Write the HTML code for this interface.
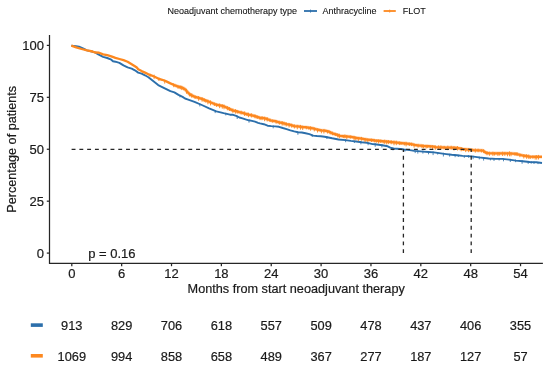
<!DOCTYPE html>
<html><head><meta charset="utf-8"><title>Kaplan-Meier</title>
<style>
html,body{margin:0;padding:0;background:#fff;}
body{width:550px;height:368px;overflow:hidden;}
svg{display:block;font-family:"Liberation Sans",Arial,sans-serif;}
</style></head>
<body>
<svg width="550" height="368" viewBox="0 0 550 368">
<text x="167.4" y="14.4" font-size="9.0" fill="#111" stroke="#111" stroke-width="0.08">Neoadjuvant chemotherapy type</text>
<line x1="304" y1="11" x2="317" y2="11" stroke="#2c6fab" stroke-width="1.8"/>
<line x1="310.5" y1="9.6" x2="310.5" y2="12.6" stroke="#2c6fab" stroke-width="0.8"/>
<text x="322.5" y="14.4" font-size="9.0" fill="#111" stroke="#111" stroke-width="0.08">Anthracycline</text>
<line x1="383.6" y1="11" x2="395.8" y2="11" stroke="#fd881f" stroke-width="1.8"/>
<line x1="389.7" y1="9.6" x2="389.7" y2="12.6" stroke="#fd881f" stroke-width="0.8"/>
<text x="402.7" y="14.4" font-size="9.0" fill="#111" stroke="#111" stroke-width="0.08">FLOT</text>
<line x1="49.5" y1="35" x2="49.5" y2="263.8" stroke="#262626" stroke-width="1.25"/>
<line x1="49" y1="263.3" x2="542.9" y2="263.3" stroke="#262626" stroke-width="1.25"/>
<line x1="46.8" y1="253.10" x2="49.5" y2="253.10" stroke="#262626" stroke-width="1.25"/>
<text x="44" y="258.10" font-size="13" text-anchor="end" fill="#1a1a1a" stroke="#1a1a1a" stroke-width="0.2">0</text>
<line x1="46.8" y1="201.18" x2="49.5" y2="201.18" stroke="#262626" stroke-width="1.25"/>
<text x="44" y="206.18" font-size="13" text-anchor="end" fill="#1a1a1a" stroke="#1a1a1a" stroke-width="0.2">25</text>
<line x1="46.8" y1="149.25" x2="49.5" y2="149.25" stroke="#262626" stroke-width="1.25"/>
<text x="44" y="154.25" font-size="13" text-anchor="end" fill="#1a1a1a" stroke="#1a1a1a" stroke-width="0.2">50</text>
<line x1="46.8" y1="97.32" x2="49.5" y2="97.32" stroke="#262626" stroke-width="1.25"/>
<text x="44" y="102.32" font-size="13" text-anchor="end" fill="#1a1a1a" stroke="#1a1a1a" stroke-width="0.2">75</text>
<line x1="46.8" y1="45.40" x2="49.5" y2="45.40" stroke="#262626" stroke-width="1.25"/>
<text x="44" y="50.40" font-size="13" text-anchor="end" fill="#1a1a1a" stroke="#1a1a1a" stroke-width="0.2">100</text>
<line x1="71.80" y1="263.3" x2="71.80" y2="266.2" stroke="#262626" stroke-width="1.25"/>
<text x="71.80" y="278.2" font-size="13" text-anchor="middle" fill="#1a1a1a" stroke="#1a1a1a" stroke-width="0.2">0</text>
<line x1="121.66" y1="263.3" x2="121.66" y2="266.2" stroke="#262626" stroke-width="1.25"/>
<text x="121.66" y="278.2" font-size="13" text-anchor="middle" fill="#1a1a1a" stroke="#1a1a1a" stroke-width="0.2">6</text>
<line x1="171.52" y1="263.3" x2="171.52" y2="266.2" stroke="#262626" stroke-width="1.25"/>
<text x="171.52" y="278.2" font-size="13" text-anchor="middle" fill="#1a1a1a" stroke="#1a1a1a" stroke-width="0.2">12</text>
<line x1="221.38" y1="263.3" x2="221.38" y2="266.2" stroke="#262626" stroke-width="1.25"/>
<text x="221.38" y="278.2" font-size="13" text-anchor="middle" fill="#1a1a1a" stroke="#1a1a1a" stroke-width="0.2">18</text>
<line x1="271.24" y1="263.3" x2="271.24" y2="266.2" stroke="#262626" stroke-width="1.25"/>
<text x="271.24" y="278.2" font-size="13" text-anchor="middle" fill="#1a1a1a" stroke="#1a1a1a" stroke-width="0.2">24</text>
<line x1="321.10" y1="263.3" x2="321.10" y2="266.2" stroke="#262626" stroke-width="1.25"/>
<text x="321.10" y="278.2" font-size="13" text-anchor="middle" fill="#1a1a1a" stroke="#1a1a1a" stroke-width="0.2">30</text>
<line x1="370.96" y1="263.3" x2="370.96" y2="266.2" stroke="#262626" stroke-width="1.25"/>
<text x="370.96" y="278.2" font-size="13" text-anchor="middle" fill="#1a1a1a" stroke="#1a1a1a" stroke-width="0.2">36</text>
<line x1="420.82" y1="263.3" x2="420.82" y2="266.2" stroke="#262626" stroke-width="1.25"/>
<text x="420.82" y="278.2" font-size="13" text-anchor="middle" fill="#1a1a1a" stroke="#1a1a1a" stroke-width="0.2">42</text>
<line x1="470.68" y1="263.3" x2="470.68" y2="266.2" stroke="#262626" stroke-width="1.25"/>
<text x="470.68" y="278.2" font-size="13" text-anchor="middle" fill="#1a1a1a" stroke="#1a1a1a" stroke-width="0.2">48</text>
<line x1="520.54" y1="263.3" x2="520.54" y2="266.2" stroke="#262626" stroke-width="1.25"/>
<text x="520.54" y="278.2" font-size="13" text-anchor="middle" fill="#1a1a1a" stroke="#1a1a1a" stroke-width="0.2">54</text>
<text x="296.2" y="293.1" font-size="12.7" text-anchor="middle" fill="#1a1a1a" stroke="#1a1a1a" stroke-width="0.2">Months from start neoadjuvant therapy</text>
<text transform="translate(16.3,149.35) rotate(-90)" x="0" y="0" font-size="12.7" text-anchor="middle" fill="#1a1a1a" stroke="#1a1a1a" stroke-width="0.2">Percentage of patients</text>
<polyline points="71.4,45.6 76.0,46.2 79.0,46.7 83.0,48.4 87.0,50.3 92.0,51.5 95.5,52.6 98.3,54.4 103.1,56.8 107.2,58.0 111.3,59.7 113.0,61.3 115.4,61.7 119.4,62.9 123.5,65.4 127.6,67.4 131.7,68.6 134.9,70.3 138.2,72.6 141.6,73.6 145.0,75.3 148.4,77.3 150.0,78.6 154.1,81.8 158.2,85.1 162.2,87.1 166.3,89.2 170.4,91.2 174.4,92.4 178.5,94.9 182.6,96.9 185.0,98.5 187.5,99.3 194.5,101.8 201.8,105.0 209.1,108.4 216.4,111.3 223.6,113.2 230.0,114.7 233.1,114.8 236.2,115.9 239.4,117.5 242.5,118.4 245.6,119.4 248.8,120.3 251.9,120.9 255.0,121.6 258.1,122.8 260.0,123.4 263.8,124.2 267.6,125.7 271.4,126.1 275.2,126.4 279.0,126.8 282.8,128.0 286.6,129.1 290.4,130.3 294.2,131.4 298.0,132.2 301.8,132.5 305.6,133.3 309.4,134.1 313.2,135.6 317.0,136.0 320.8,136.3 324.6,136.7 328.4,137.5 332.2,138.3 336.0,139.0 338.5,139.5 345.4,140.1 350.9,140.9 356.3,141.5 361.7,142.3 367.2,142.8 372.6,144.1 375.0,144.3 382.3,145.2 387.7,146.3 390.3,147.7 393.2,148.5 396.8,148.7 400.5,149.0 404.1,149.5 407.7,149.9 411.4,150.4 414.3,150.9 417.6,151.1 423.0,151.6 428.5,152.0 433.9,152.4 440.9,153.4 446.3,154.1 451.7,154.8 457.2,155.2 462.6,155.9 468.0,156.1 473.5,156.6 478.9,157.4 488.6,158.5 495.5,158.9 502.3,158.9 509.1,159.6 515.9,160.6 522.7,161.2 529.6,162.0 536.4,162.3 542.0,163.0" fill="none" stroke="#2c6fab" stroke-width="1.9" stroke-linejoin="round"/>
<path d="M180.0 94.9V97.4M199.8 103.6V106.4M215.2 110.3V113.1M225.8 112.9V115.4M237.2 115.6V119.0M249.0 119.7V122.7M273.2 125.3V128.3M297.9 131.6V134.8M312.2 134.6V137.0M326.9 136.1V139.0M345.6 139.2V142.2M354.4 140.7V143.0M360.9 141.2V144.3M368.1 142.1V145.2M375.2 143.3V146.8M381.9 144.2V147.4M393.0 147.4V150.4M404.9 149.0V151.7M415.2 150.3V153.1M417.8 150.2V153.6M422.9 150.5V153.6M428.5 151.1V154.3M433.1 151.3V155.1M437.7 152.0V154.6M443.4 152.8V156.5M449.6 153.8V156.6M455.1 154.5V157.2M458.3 154.8V157.0M464.3 155.4V157.9M468.6 155.0V157.8M473.1 155.7V159.2M479.3 156.3V159.4M483.6 157.2V160.6M490.4 158.0V160.4M494.0 158.1V161.0M499.1 158.2V160.5M503.5 158.3V161.3M510.3 158.8V162.0M515.6 159.6V162.2M522.1 160.1V163.8M528.2 161.1V163.9M531.2 161.1V163.7M534.0 161.5V164.0M538.0 162.0V164.1" stroke="#2c6fab" stroke-width="0.9" stroke-opacity="0.9" fill="none"/>
<polyline points="71.3,45.7 76.2,47.4 81.6,49.0 87.1,50.4 92.5,51.5 95.0,52.5 99.1,52.7 103.1,54.4 107.2,55.2 111.3,56.4 115.4,57.9 119.4,59.0 123.5,60.1 127.6,61.7 131.7,64.2 134.9,66.2 136.8,67.5 138.2,69.3 141.6,71.1 145.0,72.6 148.4,74.3 150.0,74.9 154.1,76.5 158.2,78.6 162.2,79.8 166.3,81.4 170.4,83.4 174.4,85.1 178.5,86.7 182.6,87.9 185.0,89.2 187.5,92.0 189.9,94.4 194.5,96.7 201.8,98.9 209.1,101.8 216.4,104.7 223.6,106.2 230.0,109.1 233.1,110.6 236.2,111.2 239.4,112.2 242.5,112.8 245.6,113.8 248.8,114.7 251.9,115.3 255.0,116.2 258.1,117.2 260.0,117.8 263.8,118.1 267.6,119.2 271.4,120.7 275.2,121.1 279.0,122.3 282.8,123.0 286.6,124.2 290.4,124.9 294.2,126.1 298.0,126.4 301.8,127.0 305.6,127.2 309.4,127.8 313.2,128.4 317.0,129.5 320.8,130.3 324.6,130.6 328.4,131.4 332.2,133.3 336.0,134.4 338.5,135.4 340.0,135.8 345.4,136.3 350.9,136.8 356.3,137.9 361.7,138.7 367.2,139.6 372.6,140.1 375.0,140.5 382.3,141.2 389.6,141.9 396.8,142.6 404.1,143.4 411.4,144.1 414.3,144.8 417.6,145.4 423.0,145.9 428.5,146.2 433.9,146.7 435.4,147.2 440.9,147.4 446.3,147.6 451.7,147.6 457.2,147.9 462.6,149.0 468.0,149.6 473.5,150.1 478.9,150.4 483.0,150.6 486.0,152.8 488.6,153.2 495.5,153.4 502.3,153.4 509.1,153.4 515.9,153.8 522.7,155.5 529.6,156.6 536.4,156.8 542.0,156.8" fill="none" stroke="#fd881f" stroke-width="2.3" stroke-linejoin="round"/>
<polyline points="174.4,85.1 178.5,86.7 182.6,87.9 185.0,89.2 187.5,92.0 189.9,94.4 194.5,96.7 201.8,98.9 209.1,101.8 216.4,104.7 223.6,106.2 230.0,109.1 233.1,110.6 236.2,111.2 239.4,112.2 242.5,112.8 245.6,113.8 248.8,114.7 251.9,115.3 255.0,116.2 258.1,117.2 260.0,117.8 263.8,118.1 267.6,119.2 271.4,120.7 275.2,121.1 279.0,122.3 282.8,123.0 286.6,124.2 290.4,124.9 294.2,126.1 298.0,126.4 301.8,127.0 305.6,127.2 309.4,127.8 313.2,128.4 317.0,129.5 320.8,130.3 324.6,130.6 328.4,131.4 332.2,133.3 336.0,134.4 338.5,135.4 340.0,135.8 345.4,136.3 350.9,136.8 356.3,137.9 361.7,138.7 367.2,139.6 372.6,140.1 375.0,140.5 382.3,141.2 389.6,141.9 396.8,142.6 404.1,143.4 411.4,144.1 414.3,144.8 417.6,145.4 423.0,145.9 428.5,146.2 433.9,146.7 435.4,147.2 440.9,147.4 446.3,147.6 451.7,147.6 457.2,147.9 462.6,149.0 468.0,149.6 473.5,150.1 478.9,150.4 483.0,150.6 486.0,152.8 488.6,153.2 495.5,153.4 502.3,153.4 509.1,153.4 515.9,153.8 522.7,155.5 529.6,156.6 536.4,156.8 542.0,156.8" fill="none" stroke="#fd881f" stroke-width="3.6" stroke-linejoin="round" stroke-opacity="0.35"/>
<path d="M150.0 73.8V77.1M154.1 74.6V79.1M158.9 77.5V81.0M164.7 79.6V83.6M173.7 83.3V87.2M178.1 85.4V88.7M180.2 85.4V89.2M181.8 85.7V90.1M183.7 86.9V90.3M186.5 88.9V93.7M189.7 93.0V96.5M191.7 93.5V97.7M195.1 95.6V98.9M198.6 96.0V100.8M202.1 97.2V101.7M204.2 98.3V102.1M205.8 99.5V102.6M207.9 99.6V104.3M210.5 100.4V105.4M214.4 102.6V106.0M216.5 103.5V106.8M219.6 103.5V108.2M222.3 104.3V108.7M224.0 104.7V109.3M227.4 106.2V110.3M229.4 107.0V111.0M232.9 108.5V112.8M235.4 109.1V113.7M237.3 110.4V113.5M241.1 110.7V114.5M244.6 111.5V116.0M247.0 112.6V116.1M248.5 112.7V117.2M251.4 113.3V117.5M255.0 114.4V118.3M257.2 115.6V119.0M260.1 116.6V120.1M262.0 116.0V120.2M264.6 116.8V121.2M267.2 117.2V121.5M270.0 118.6V122.0M272.6 119.6V122.6M276.1 120.2V123.7M279.4 120.8V124.6M282.2 121.3V125.6M284.0 121.8V125.5M286.2 122.3V126.5M289.1 122.9V127.5M291.7 123.7V127.7M294.4 124.4V128.5M297.3 124.9V129.3M300.5 124.9V129.7M302.7 125.5V130.0M306.3 126.2V129.3M308.9 126.6V129.8M310.6 126.3V130.7M314.3 127.6V131.4M317.5 128.5V132.5M321.4 129.1V133.3M323.9 129.1V133.5M327.5 130.0V133.5M330.2 131.0V134.3M332.5 131.7V135.2M335.4 132.8V136.0M337.8 133.5V137.5M339.4 133.7V138.4M343.3 135.0V138.2M344.9 134.5V138.4M346.8 135.0V139.3M350.3 135.5V138.7M354.1 135.9V140.1M355.8 136.7V140.4M358.4 137.1V141.1M361.5 136.9V140.6M365.1 138.2V142.1M367.8 138.3V142.1M371.6 138.7V142.0M374.4 139.2V142.3M376.3 139.6V142.7M378.6 139.5V143.6M380.8 139.6V143.1M383.2 140.3V143.4M384.7 139.7V143.9M386.7 140.1V144.5M388.4 140.0V144.1M391.2 140.2V144.3M394.0 140.6V145.3M396.3 140.7V145.2M399.4 141.5V145.1M401.0 141.9V144.9M404.4 142.2V145.4M406.1 141.8V146.4M409.3 142.6V146.0M411.5 142.7V146.1M414.1 143.5V147.7M418.1 143.9V147.5M422.0 144.5V148.0M423.5 144.5V148.3M426.2 144.9V148.5M427.7 144.9V148.1M430.2 145.3V148.2M432.5 145.3V149.1M435.3 145.4V149.8M438.6 145.4V149.6M440.9 145.4V149.4M444.2 145.9V149.4M447.8 145.7V150.2M451.2 145.8V149.6M454.0 146.2V150.5M457.5 146.1V150.5M461.2 147.0V151.3M463.3 148.0V151.0M465.7 148.2V152.1M468.6 148.0V152.2M471.8 148.5V151.7M475.3 148.5V152.6M478.1 148.7V152.2M481.5 149.3V152.4M483.6 149.3V153.1M487.0 151.0V155.3M489.4 151.7V155.8M492.9 151.7V155.9M494.5 152.2V155.5M497.9 152.1V155.9M499.4 152.3V155.5M502.6 151.7V156.0M504.8 151.9V155.8M507.5 152.3V156.3M509.5 151.4V156.3M511.0 152.1V156.3M515.0 152.3V155.9M517.0 152.1V156.1M519.9 153.7V157.2M523.8 154.5V158.5M526.6 154.2V158.8M528.7 154.6V158.8M530.2 155.6V159.0M532.9 155.4V158.7M535.2 155.4V159.6M536.7 155.0V159.6M538.5 154.9V159.5" stroke="#fd881f" stroke-width="0.9" fill="none"/>
<line x1="71.6" y1="149.3" x2="471.4" y2="149.3" stroke="#262626" stroke-width="1.3" stroke-dasharray="3.89,3.89"/>
<line x1="403.4" y1="253.1" x2="403.4" y2="149.3" stroke="#262626" stroke-width="1.3" stroke-dasharray="3.89,3.89"/>
<line x1="471.2" y1="253.1" x2="471.2" y2="149.3" stroke="#262626" stroke-width="1.3" stroke-dasharray="3.89,3.89"/>
<text x="88.2" y="258.2" font-size="13" fill="#1a1a1a" stroke="#1a1a1a" stroke-width="0.2">p = 0.16</text>
<rect x="30.8" y="323.3" width="12" height="3.6" fill="#2c6fab"/>
<rect x="30.8" y="354.0" width="12" height="3.6" fill="#fd881f"/>
<text x="71.80" y="330.2" font-size="12.8" text-anchor="middle" fill="#1a1a1a" stroke="#1a1a1a" stroke-width="0.2">913</text>
<text x="71.80" y="360.8" font-size="12.8" text-anchor="middle" fill="#1a1a1a" stroke="#1a1a1a" stroke-width="0.2">1069</text>
<text x="121.66" y="330.2" font-size="12.8" text-anchor="middle" fill="#1a1a1a" stroke="#1a1a1a" stroke-width="0.2">829</text>
<text x="121.66" y="360.8" font-size="12.8" text-anchor="middle" fill="#1a1a1a" stroke="#1a1a1a" stroke-width="0.2">994</text>
<text x="171.52" y="330.2" font-size="12.8" text-anchor="middle" fill="#1a1a1a" stroke="#1a1a1a" stroke-width="0.2">706</text>
<text x="171.52" y="360.8" font-size="12.8" text-anchor="middle" fill="#1a1a1a" stroke="#1a1a1a" stroke-width="0.2">858</text>
<text x="221.38" y="330.2" font-size="12.8" text-anchor="middle" fill="#1a1a1a" stroke="#1a1a1a" stroke-width="0.2">618</text>
<text x="221.38" y="360.8" font-size="12.8" text-anchor="middle" fill="#1a1a1a" stroke="#1a1a1a" stroke-width="0.2">658</text>
<text x="271.24" y="330.2" font-size="12.8" text-anchor="middle" fill="#1a1a1a" stroke="#1a1a1a" stroke-width="0.2">557</text>
<text x="271.24" y="360.8" font-size="12.8" text-anchor="middle" fill="#1a1a1a" stroke="#1a1a1a" stroke-width="0.2">489</text>
<text x="321.10" y="330.2" font-size="12.8" text-anchor="middle" fill="#1a1a1a" stroke="#1a1a1a" stroke-width="0.2">509</text>
<text x="321.10" y="360.8" font-size="12.8" text-anchor="middle" fill="#1a1a1a" stroke="#1a1a1a" stroke-width="0.2">367</text>
<text x="370.96" y="330.2" font-size="12.8" text-anchor="middle" fill="#1a1a1a" stroke="#1a1a1a" stroke-width="0.2">478</text>
<text x="370.96" y="360.8" font-size="12.8" text-anchor="middle" fill="#1a1a1a" stroke="#1a1a1a" stroke-width="0.2">277</text>
<text x="420.82" y="330.2" font-size="12.8" text-anchor="middle" fill="#1a1a1a" stroke="#1a1a1a" stroke-width="0.2">437</text>
<text x="420.82" y="360.8" font-size="12.8" text-anchor="middle" fill="#1a1a1a" stroke="#1a1a1a" stroke-width="0.2">187</text>
<text x="470.68" y="330.2" font-size="12.8" text-anchor="middle" fill="#1a1a1a" stroke="#1a1a1a" stroke-width="0.2">406</text>
<text x="470.68" y="360.8" font-size="12.8" text-anchor="middle" fill="#1a1a1a" stroke="#1a1a1a" stroke-width="0.2">127</text>
<text x="520.54" y="330.2" font-size="12.8" text-anchor="middle" fill="#1a1a1a" stroke="#1a1a1a" stroke-width="0.2">355</text>
<text x="520.54" y="360.8" font-size="12.8" text-anchor="middle" fill="#1a1a1a" stroke="#1a1a1a" stroke-width="0.2">57</text>
</svg>
</body></html>
